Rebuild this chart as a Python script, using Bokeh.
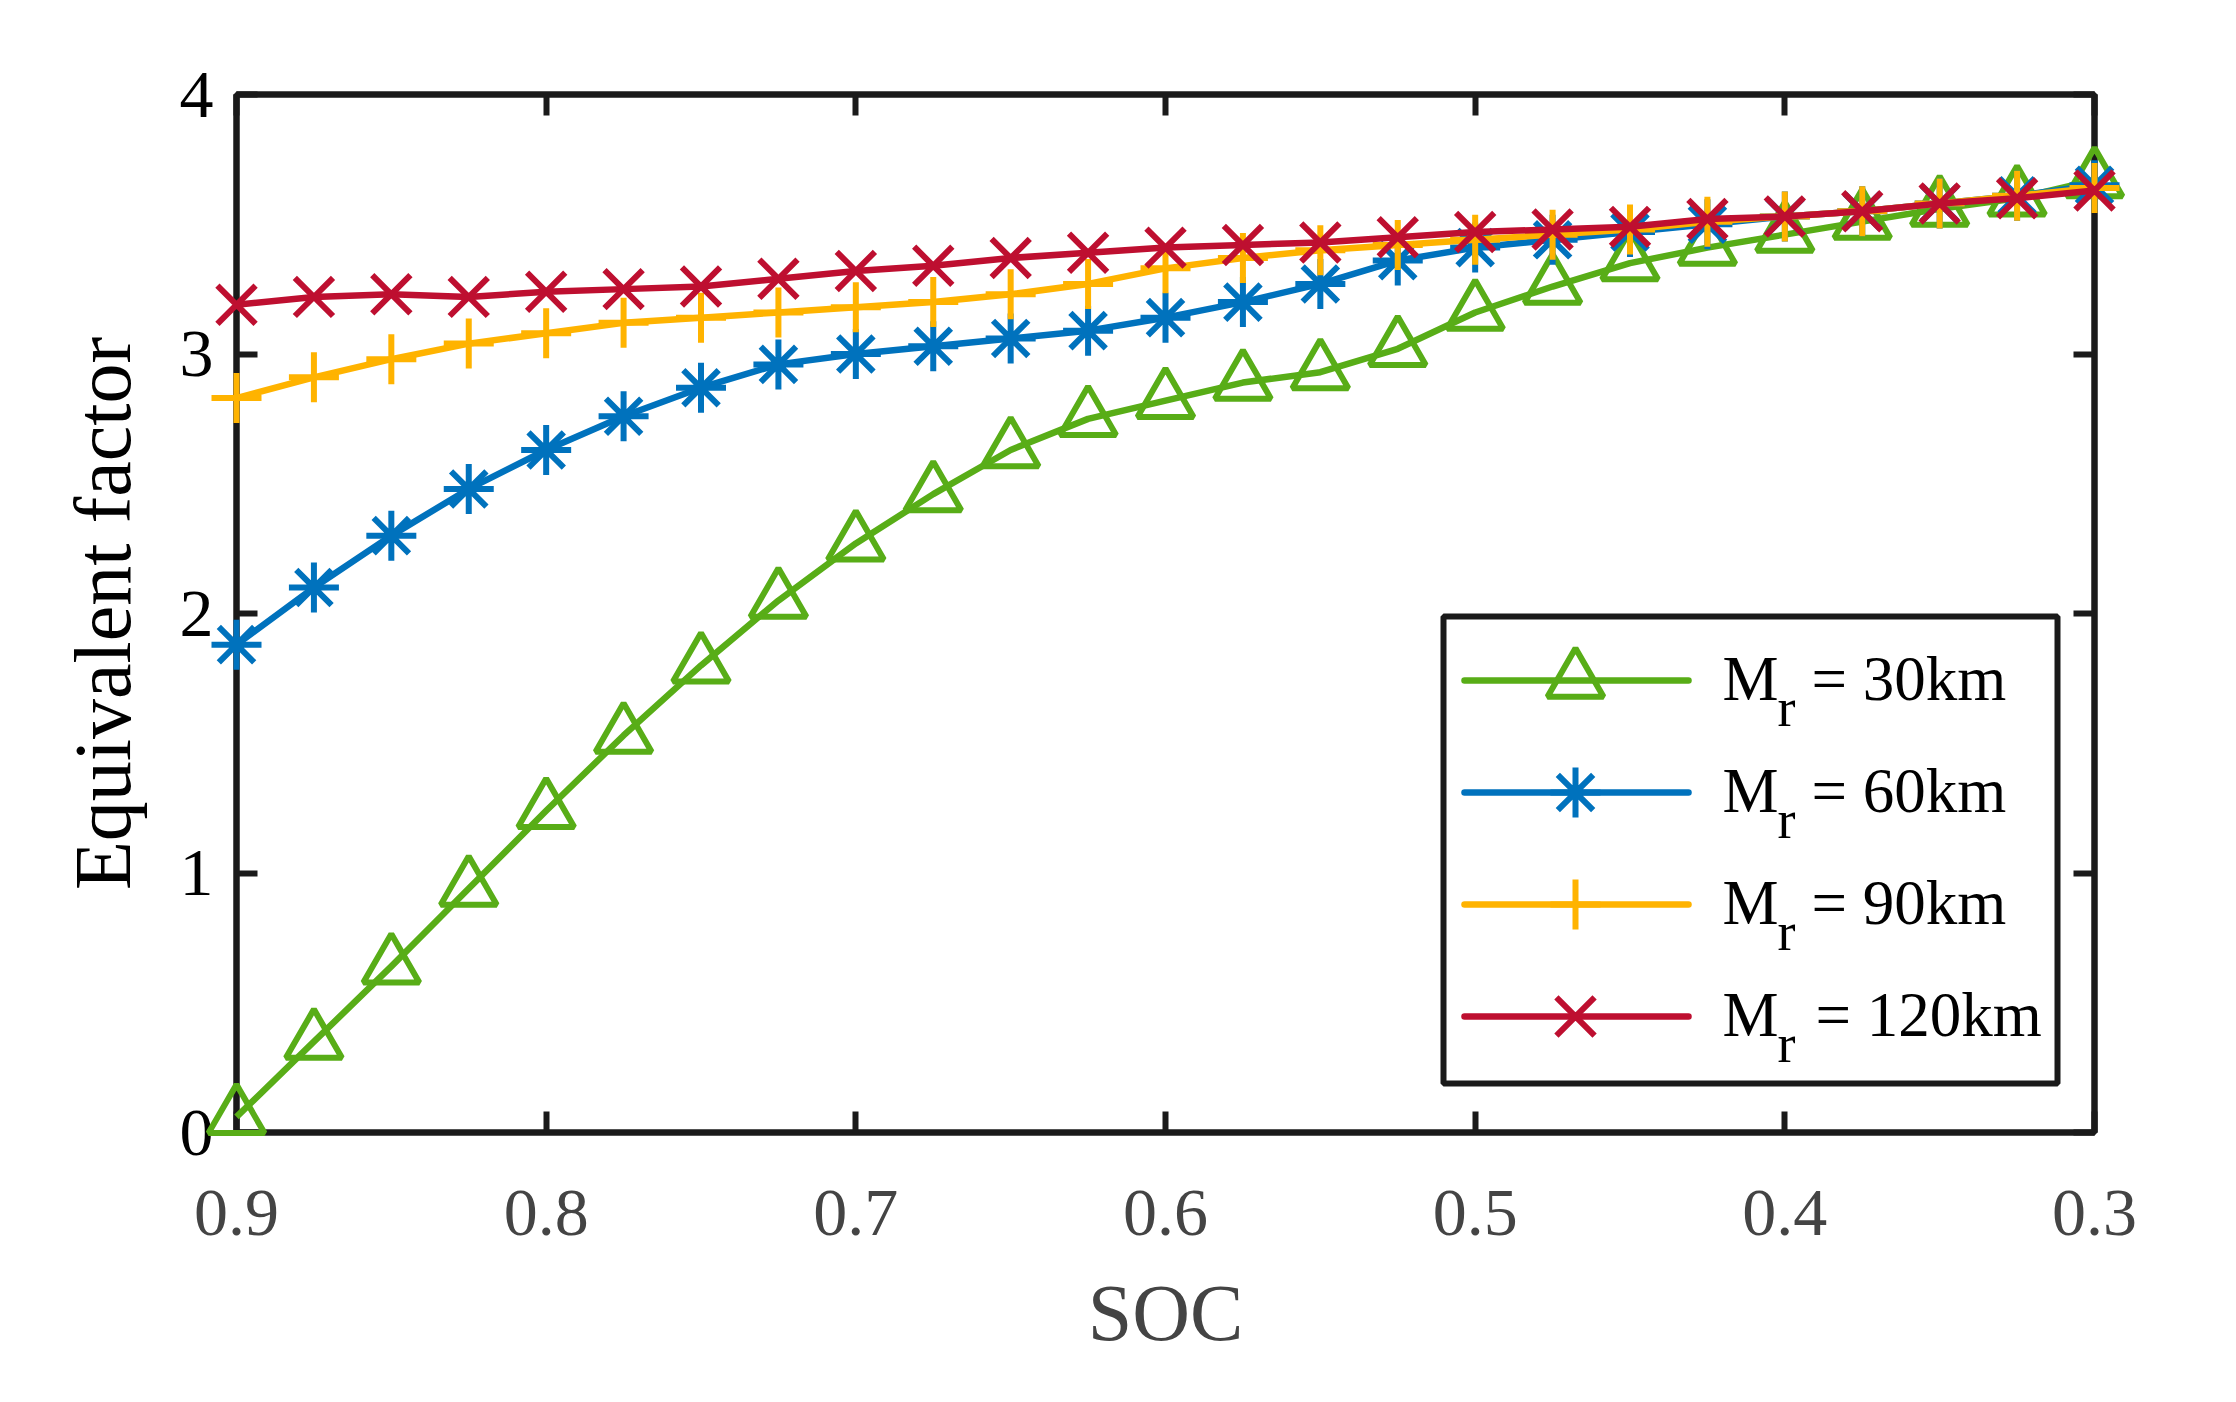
from bokeh.plotting import figure
from bokeh.models import Range1d, LinearAxis, FixedTicker
from bokeh.embed import file_html
from bokeh.resources import INLINE
from bokeh.core.properties import value

# ---------------- data ----------------
soc = [0.9, 0.875, 0.85, 0.825, 0.8, 0.775, 0.75, 0.725, 0.7, 0.675, 0.65, 0.625,
       0.6, 0.575, 0.55, 0.525, 0.5, 0.475, 0.45, 0.425, 0.4, 0.375, 0.35, 0.325, 0.3]
ef_30km = [0.06, 0.35, 0.64, 0.94, 1.24, 1.53, 1.80, 2.05, 2.27, 2.46, 2.63, 2.75,
           2.82, 2.89, 2.93, 3.02, 3.16, 3.26, 3.35, 3.41, 3.46, 3.51, 3.56, 3.60, 3.67]
ef_60km = [1.88, 2.10, 2.30, 2.48, 2.63, 2.76, 2.87, 2.96, 3.00, 3.03, 3.06, 3.09,
           3.14, 3.20, 3.27, 3.36, 3.41, 3.44, 3.47, 3.50, 3.53, 3.55, 3.58, 3.61, 3.65]
ef_90km = [2.83, 2.91, 2.98, 3.04, 3.08, 3.12, 3.14, 3.16, 3.18, 3.20, 3.23, 3.27,
           3.33, 3.37, 3.40, 3.42, 3.44, 3.46, 3.48, 3.51, 3.53, 3.55, 3.58, 3.61, 3.64]
ef_120km = [3.19, 3.22, 3.23, 3.22, 3.24, 3.25, 3.26, 3.29, 3.32, 3.34, 3.37, 3.39,
            3.41, 3.42, 3.43, 3.45, 3.47, 3.48, 3.49, 3.52, 3.53, 3.55, 3.58, 3.60, 3.63]

x_lim = [0.9, 0.3]
y_lim = [0, 4]
x_ticks = [0.9, 0.8, 0.7, 0.6, 0.5, 0.4, 0.3]
x_tick_labels = ["0.9", "0.8", "0.7", "0.6", "0.5", "0.4", "0.3"]
y_ticks = [0, 1, 2, 3, 4]
y_tick_labels = ["0", "1", "2", "3", "4"]
legend_main = ["M", "M", "M", "M"]
legend_sub = ["r", "r", "r", "r"]
legend_rest = ["= 30km", "= 60km", "= 90km", "= 120km"]

series = [ef_30km, ef_60km, ef_90km, ef_120km]
colors = ["#58AD17", "#0072BD", "#FFB300", "#BE0F30"]
markers = ["triangle", "asterisk", "cross", "x"]
msizes = [56, 50, 50, 54]

FONT = "Liberation Serif"
AXC = "#1a1a1a"

# ---------------- layout ----------------
W, H = 2220, 1388
AX_L, AX_T = 236, 94          # axes box position inside the figure
FW, FH = 1858, 1038           # axes box size

p = figure(width=W, height=H, output_backend="svg", toolbar_location=None,
           x_range=Range1d(x_lim[0], x_lim[1]), y_range=Range1d(y_lim[0], y_lim[1]),
           min_border_left=AX_L, min_border_right=W - AX_L - FW,
           min_border_top=AX_T, min_border_bottom=H - AX_T - FH)
p.grid.visible = False
p.background_fill_color = "white"
p.border_fill_color = "white"
p.outline_line_color = AXC
p.outline_line_width = 6

xa = p.xaxis[0]
ya = p.yaxis[0]
xa.ticker = FixedTicker(ticks=x_ticks)
ya.ticker = FixedTicker(ticks=y_ticks)
xa.major_label_overrides = {t: s for t, s in zip(x_ticks, x_tick_labels)}
ya.major_label_overrides = {t: s for t, s in zip(y_ticks, y_tick_labels)}


def style_axis(ax):
    ax.axis_line_width = 6
    ax.axis_line_color = AXC
    ax.major_tick_line_width = 6
    ax.major_tick_line_color = AXC
    ax.major_tick_in = 21
    ax.major_tick_out = 0
    ax.minor_tick_line_color = None


for ax in (xa, ya):
    style_axis(ax)
    ax.major_label_text_font = FONT
    ax.major_label_text_font_size = "68px"
    ax.axis_label_text_font = FONT
    ax.axis_label_text_font_style = "normal"
    ax.axis_label_text_font_size = "80px"

xa.axis_label = "SOC"
xa.major_label_text_color = "#444444"
xa.axis_label_text_color = "#444444"
xa.major_label_standoff = 58
xa.axis_label_standoff = 31

ya.axis_label = "Equivalent factor"
ya.major_label_text_color = "black"
ya.axis_label_text_color = "black"
ya.major_label_standoff = 23
ya.axis_label_standoff = 30

# mirrored ticks on top and right (MATLAB box on)
for side, tk in (("above", x_ticks), ("right", y_ticks)):
    ax = LinearAxis(ticker=FixedTicker(ticks=tk))
    style_axis(ax)
    ax.major_label_text_color = None
    ax.major_label_text_font_size = "1px"
    ax.major_label_standoff = 0
    p.add_layout(ax, side)

# ---------------- series (overlay level: markers on the box edge stay whole) ----------------
for ys, c, m, s in zip(series, colors, markers, msizes):
    p.line(soc, ys, line_color=c, line_width=6.5, line_join="round", level="overlay")
    p.scatter(soc, ys, marker=m, size=s, line_color=c, line_width=6, fill_color=None,
              level="overlay")

# ---------------- legend (pixel coordinates relative to the axes box) ----------------
p.extra_x_ranges = {"px": Range1d(0, FW)}
p.extra_y_ranges = {"px": Range1d(FH, 0)}
LX0, LX1, LY0, LY1 = 1207, 1821, 522, 989
p.quad(left=[LX0], right=[LX1], top=[LY0], bottom=[LY1], fill_color="white",
       line_color=AXC, line_width=6, x_range_name="px", y_range_name="px", level="overlay")
row_y = [586 + 112 * k for k in range(4)]
for k in range(4):
    yk = row_y[k]
    p.line([1228, 1452], [yk, yk], line_color=colors[k], line_width=6.5,
           line_cap="round", x_range_name="px", y_range_name="px", level="overlay")
    p.scatter([1339], [yk], marker=markers[k], size=msizes[k], line_color=colors[k],
              line_width=6, fill_color=None, x_range_name="px", y_range_name="px",
              level="overlay")
p.text(x=[1486] * 4, y=[y - 2 for y in row_y], text=legend_main,
       text_font=value(FONT), text_font_size="63px", text_color="black",
       text_baseline="alphabetic", text_align="left", x_range_name="px", y_range_name="px",
       level="overlay")
p.text(x=[1541] * 4, y=[y + 27 for y in row_y], text=legend_sub,
       text_font=value(FONT), text_font_size="54px", text_color="black",
       text_baseline="alphabetic", text_align="left", x_range_name="px", y_range_name="px",
       level="overlay")
p.text(x=[1575, 1575, 1575, 1579], y=[y - 2 for y in row_y], text=legend_rest,
       text_font=value(FONT), text_font_size="63px", text_color="black",
       text_baseline="alphabetic", text_align="left", x_range_name="px", y_range_name="px",
       level="overlay")

open("out.html", "w").write(file_html(p, INLINE))
